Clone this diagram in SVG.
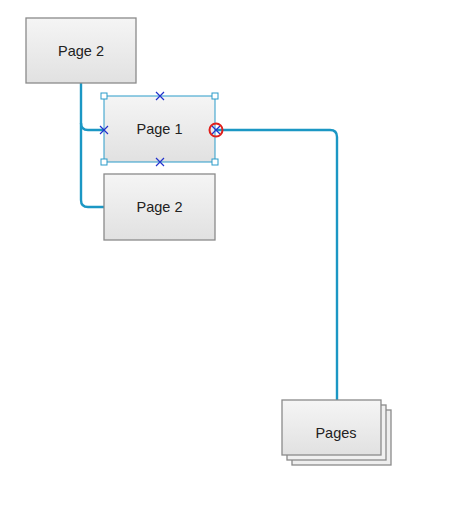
<svg xmlns="http://www.w3.org/2000/svg" width="474" height="526" viewBox="0 0 474 526">
<defs>
<linearGradient id="g" x1="0" y1="0" x2="0" y2="1">
<stop offset="0" stop-color="#f5f5f5"/>
<stop offset="1" stop-color="#e1e1e1"/>
</linearGradient>
<style>
.box{fill:url(#g);stroke:#8a8a8a;stroke-width:1.3}
.lbl{font-family:"Liberation Sans",Arial,sans-serif;font-size:14.5px;fill:#222;text-anchor:middle;dominant-baseline:central}
.con{fill:none;stroke:#1b97c4;stroke-width:2.4}
.h{fill:#fff;stroke:#2a9bc9;stroke-width:1}
.x{stroke:#2233cc;stroke-width:1.2;fill:none}
</style>
</defs>
<rect width="474" height="526" fill="#fff"/>
<g id="connectors">
<path class="con" d="M81,83 V200 Q81,207 88,207 H104"/>
<path class="con" d="M81,123 Q81,130 88,130 H104"/>
<path class="con" d="M216,130 H330 Q337,130 337,137 V400"/>
</g>
<g id="page2-top">
<rect class="box" x="26" y="18" width="110" height="65"/>
<text class="lbl" x="81" y="50.5">Page 2</text>
</g>
<g id="page2-bottom">
<rect class="box" x="104" y="174" width="111" height="66"/>
<text class="lbl" x="159.5" y="207">Page 2</text>
</g>
<g id="page1">
<rect class="box" x="104" y="96" width="111" height="66" style="stroke:#2a9bc9;stroke-width:1"/>
<text class="lbl" x="159.5" y="129">Page 1</text>
<rect class="h" x="101" y="93" width="6" height="6"/>
<rect class="h" x="212" y="93" width="6" height="6"/>
<rect class="h" x="101" y="159" width="6" height="6"/>
<rect class="h" x="212" y="159" width="6" height="6"/>
<path class="x" d="M156,92 l8,8 M164,92 l-8,8"/>
<path class="x" d="M156,158 l8,8 M164,158 l-8,8"/>
<path class="x" d="M100,126 l8,8 M108,126 l-8,8"/>
<path class="x" d="M212,126 l8,8 M220,126 l-8,8"/>
<circle cx="216" cy="130" r="6.5" fill="none" stroke="#e0201c" stroke-width="2"/>
</g>
<g id="pages">
<rect class="box" x="292" y="410" width="99" height="55" style="fill:#eeeeee"/>
<rect class="box" x="287" y="405" width="99" height="55" style="fill:#f0f0f0"/>
<rect class="box" x="282" y="400" width="99" height="55"/>
<text class="lbl" x="336" y="433">Pages</text>
</g>
</svg>
